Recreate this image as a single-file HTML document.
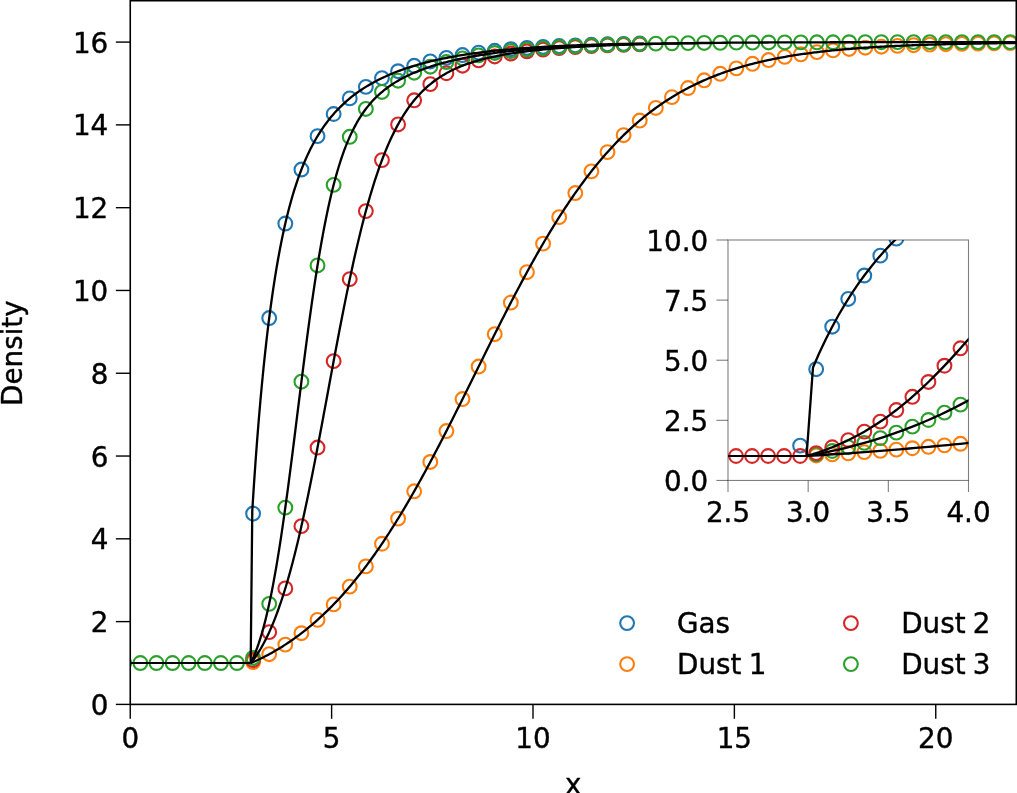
<!DOCTYPE html>
<html><head><meta charset="utf-8"><title>Density</title><style>html,body{margin:0;padding:0;background:#fff}body{width:1017px;height:793px;overflow:hidden}</style></head><body>
<svg width="1017" height="793" viewBox="0 0 1017 793" style="display:block" font-family="'DejaVu Sans','Liberation Sans',sans-serif" font-size="27.78" fill="#000" stroke="none">
<style>text{stroke:#000;stroke-width:0.4px;stroke-linejoin:round}</style>
<rect width="1017" height="793" fill="#fff"/>
<defs><clipPath id="cm"><rect x="130.25" y="0.7" width="886.05" height="703.7"/></clipPath><clipPath id="ci"><rect x="728" y="240" width="240.5" height="240.45"/></clipPath></defs>
<g clip-path="url(#cm)" fill="none" stroke="#1f77b4" stroke-width="2.1"><circle cx="253.09" cy="513.57" r="6.9"/><circle cx="269.2" cy="318.06" r="6.9"/><circle cx="285.31" cy="223.51" r="6.9"/><circle cx="301.42" cy="169.52" r="6.9"/><circle cx="317.53" cy="136.16" r="6.9"/><circle cx="333.64" cy="114" r="6.9"/><circle cx="349.75" cy="98.39" r="6.9"/><circle cx="365.86" cy="86.87" r="6.9"/><circle cx="381.97" cy="78.09" r="6.9"/><circle cx="398.08" cy="71.23" r="6.9"/><circle cx="414.19" cy="65.79" r="6.9"/><circle cx="430.3" cy="61.43" r="6.9"/><circle cx="446.41" cy="57.91" r="6.9"/><circle cx="462.52" cy="55.04" r="6.9"/><circle cx="478.63" cy="52.71" r="6.9"/><circle cx="494.74" cy="50.8" r="6.9"/><circle cx="510.85" cy="49.24" r="6.9"/><circle cx="526.96" cy="47.96" r="6.9"/><circle cx="543.07" cy="46.91" r="6.9"/><circle cx="559.18" cy="46.05" r="6.9"/><circle cx="575.29" cy="45.34" r="6.9"/><circle cx="591.4" cy="44.76" r="6.9"/><circle cx="607.51" cy="44.28" r="6.9"/><circle cx="623.62" cy="43.89" r="6.9"/><circle cx="639.73" cy="43.57" r="6.9"/></g>
<g clip-path="url(#cm)" fill="none" stroke="#ff7f0e" stroke-width="2.1"><circle cx="253.09" cy="662.03" r="6.9"/><circle cx="269.2" cy="654.22" r="6.9"/><circle cx="285.31" cy="644.62" r="6.9"/><circle cx="301.42" cy="633.23" r="6.9"/><circle cx="317.53" cy="619.88" r="6.9"/><circle cx="333.64" cy="604.4" r="6.9"/><circle cx="349.75" cy="586.61" r="6.9"/><circle cx="365.86" cy="566.41" r="6.9"/><circle cx="381.97" cy="543.75" r="6.9"/><circle cx="398.08" cy="518.66" r="6.9"/><circle cx="414.19" cy="491.32" r="6.9"/><circle cx="430.3" cy="461.98" r="6.9"/><circle cx="446.41" cy="431.06" r="6.9"/><circle cx="462.52" cy="399.06" r="6.9"/><circle cx="478.63" cy="366.56" r="6.9"/><circle cx="494.74" cy="334.19" r="6.9"/><circle cx="510.85" cy="302.55" r="6.9"/><circle cx="526.96" cy="272.21" r="6.9"/><circle cx="543.07" cy="243.63" r="6.9"/><circle cx="559.18" cy="217.16" r="6.9"/><circle cx="575.29" cy="193.03" r="6.9"/><circle cx="591.4" cy="171.34" r="6.9"/><circle cx="607.51" cy="152.1" r="6.9"/><circle cx="623.62" cy="135.22" r="6.9"/><circle cx="639.73" cy="120.56" r="6.9"/><circle cx="655.84" cy="107.95" r="6.9"/><circle cx="671.95" cy="97.17" r="6.9"/><circle cx="688.06" cy="88.02" r="6.9"/><circle cx="704.17" cy="80.29" r="6.9"/><circle cx="720.28" cy="73.8" r="6.9"/><circle cx="736.39" cy="68.36" r="6.9"/><circle cx="752.5" cy="63.82" r="6.9"/><circle cx="768.61" cy="60.05" r="6.9"/><circle cx="784.72" cy="56.92" r="6.9"/><circle cx="800.83" cy="54.32" r="6.9"/><circle cx="816.94" cy="52.17" r="6.9"/><circle cx="833.05" cy="50.39" r="6.9"/><circle cx="849.16" cy="48.93" r="6.9"/><circle cx="865.27" cy="47.72" r="6.9"/><circle cx="881.38" cy="46.72" r="6.9"/><circle cx="897.49" cy="45.9" r="6.9"/><circle cx="913.6" cy="45.22" r="6.9"/><circle cx="929.71" cy="44.67" r="6.9"/><circle cx="945.82" cy="44.21" r="6.9"/><circle cx="961.93" cy="43.83" r="6.9"/><circle cx="978.04" cy="43.52" r="6.9"/><circle cx="994.15" cy="43.27" r="6.9"/><circle cx="1010.26" cy="43.06" r="6.9"/><circle cx="1026.37" cy="42.89" r="6.9"/></g>
<g clip-path="url(#cm)" fill="none" stroke="#d62728" stroke-width="2.1"><circle cx="253.09" cy="660.04" r="6.9"/><circle cx="269.2" cy="632.16" r="6.9"/><circle cx="285.31" cy="588.38" r="6.9"/><circle cx="301.42" cy="526.17" r="6.9"/><circle cx="317.53" cy="447.55" r="6.9"/><circle cx="333.64" cy="361.14" r="6.9"/><circle cx="349.75" cy="279.16" r="6.9"/><circle cx="365.86" cy="211.08" r="6.9"/><circle cx="381.97" cy="160.11" r="6.9"/><circle cx="398.08" cy="124.44" r="6.9"/><circle cx="414.19" cy="100.32" r="6.9"/><circle cx="430.3" cy="84.17" r="6.9"/><circle cx="446.41" cy="73.25" r="6.9"/><circle cx="462.52" cy="65.71" r="6.9"/><circle cx="478.63" cy="60.35" r="6.9"/><circle cx="494.74" cy="56.45" r="6.9"/><circle cx="510.85" cy="53.51" r="6.9"/><circle cx="526.96" cy="51.27" r="6.9"/><circle cx="543.07" cy="49.51" r="6.9"/><circle cx="559.18" cy="48.12" r="6.9"/><circle cx="575.29" cy="47.01" r="6.9"/><circle cx="591.4" cy="46.11" r="6.9"/><circle cx="607.51" cy="45.38" r="6.9"/><circle cx="623.62" cy="44.79" r="6.9"/><circle cx="639.73" cy="44.3" r="6.9"/></g>
<g clip-path="url(#cm)" fill="none" stroke="#2ca02c" stroke-width="2.1"><circle cx="124.21" cy="663.01" r="6.9"/><circle cx="140.32" cy="663.01" r="6.9"/><circle cx="156.43" cy="663.01" r="6.9"/><circle cx="172.54" cy="663.01" r="6.9"/><circle cx="188.65" cy="663.01" r="6.9"/><circle cx="204.76" cy="663.01" r="6.9"/><circle cx="220.87" cy="663.01" r="6.9"/><circle cx="236.98" cy="663.01" r="6.9"/><circle cx="253.09" cy="657.98" r="6.9"/><circle cx="269.2" cy="603.86" r="6.9"/><circle cx="285.31" cy="507.61" r="6.9"/><circle cx="301.42" cy="381.7" r="6.9"/><circle cx="317.53" cy="265.47" r="6.9"/><circle cx="333.64" cy="184.85" r="6.9"/><circle cx="349.75" cy="136.81" r="6.9"/><circle cx="365.86" cy="108.95" r="6.9"/><circle cx="381.97" cy="91.94" r="6.9"/><circle cx="398.08" cy="80.7" r="6.9"/><circle cx="414.19" cy="72.72" r="6.9"/><circle cx="430.3" cy="66.72" r="6.9"/><circle cx="446.41" cy="62.06" r="6.9"/><circle cx="462.52" cy="58.36" r="6.9"/><circle cx="478.63" cy="55.39" r="6.9"/><circle cx="494.74" cy="52.98" r="6.9"/><circle cx="510.85" cy="51.01" r="6.9"/><circle cx="526.96" cy="49.41" r="6.9"/><circle cx="543.07" cy="48.1" r="6.9"/><circle cx="559.18" cy="47.02" r="6.9"/><circle cx="575.29" cy="46.14" r="6.9"/><circle cx="591.4" cy="45.42" r="6.9"/><circle cx="607.51" cy="44.82" r="6.9"/><circle cx="623.62" cy="44.33" r="6.9"/><circle cx="639.73" cy="43.93" r="6.9"/><circle cx="655.84" cy="43.61" r="6.9"/><circle cx="671.95" cy="43.34" r="6.9"/><circle cx="688.06" cy="43.11" r="6.9"/><circle cx="704.17" cy="42.93" r="6.9"/><circle cx="720.28" cy="42.78" r="6.9"/><circle cx="736.39" cy="42.66" r="6.9"/><circle cx="752.5" cy="42.56" r="6.9"/><circle cx="768.61" cy="42.48" r="6.9"/><circle cx="784.72" cy="42.41" r="6.9"/><circle cx="800.83" cy="42.35" r="6.9"/><circle cx="816.94" cy="42.31" r="6.9"/><circle cx="833.05" cy="42.27" r="6.9"/><circle cx="849.16" cy="42.24" r="6.9"/><circle cx="865.27" cy="42.21" r="6.9"/><circle cx="881.38" cy="42.19" r="6.9"/><circle cx="897.49" cy="42.17" r="6.9"/><circle cx="913.6" cy="42.16" r="6.9"/><circle cx="929.71" cy="42.15" r="6.9"/><circle cx="945.82" cy="42.14" r="6.9"/><circle cx="961.93" cy="42.13" r="6.9"/><circle cx="978.04" cy="42.12" r="6.9"/><circle cx="994.15" cy="42.12" r="6.9"/><circle cx="1010.26" cy="42.11" r="6.9"/><circle cx="1026.37" cy="42.11" r="6.9"/></g>
<polyline clip-path="url(#cm)" fill="none" stroke="#000" stroke-width="2.0" stroke-linejoin="round" points="110.11,663.01 250.67,663.01"/>
<polyline clip-path="url(#cm)" fill="none" stroke="#000" stroke-width="2.3" stroke-linejoin="round" points="250.67,663.01 252.28,510.75 253.89,485.36 255.51,462.01 257.12,440.38 258.73,420.26 260.34,401.51 261.95,384 263.56,367.62 265.17,352.29 266.78,337.94 268.39,324.48 270,311.85 271.62,299.99 273.23,288.84 274.84,278.36 276.45,268.5 278.06,259.21 279.67,250.46 281.28,242.2 282.89,234.41 284.5,227.04 286.11,220.08 287.73,213.49 289.34,207.26 290.95,201.34 292.56,195.73 294.17,190.41 295.78,185.36 297.39,180.55 299,175.97 300.61,171.62 302.22,167.47 303.84,163.51 305.45,159.73 307.06,156.12 308.67,152.67 310.28,149.37 311.89,146.21 313.5,143.19 315.11,140.29 316.72,137.51 318.33,134.84 319.95,132.27 321.56,129.81 323.17,127.43 324.78,125.15 326.39,122.96 328,120.84 329.61,118.8 331.22,116.83 332.83,114.93 334.44,113.1 336.06,111.32 337.67,109.61 339.28,107.95 340.89,106.35 342.5,104.8 344.11,103.3 345.72,101.84 347.33,100.43 348.94,99.06 350.55,97.73 352.17,96.44 353.78,95.19 355.39,93.98 357,92.8 358.61,91.65 360.22,90.54 361.83,89.45 363.44,88.4 365.05,87.37 366.66,86.38 368.28,85.4 369.89,84.46 371.5,83.54 373.11,82.64 374.72,81.76 376.33,80.91 377.94,80.08 379.55,79.27 381.16,78.48 382.77,77.71 384.39,76.95 386,76.22 387.61,75.5 389.22,74.8 390.83,74.12 392.44,73.45 394.05,72.8 395.66,72.16 397.27,71.54 398.88,70.93 400.5,70.34 402.11,69.76 403.72,69.19 405.33,68.63 406.94,68.09 408.55,67.56 410.16,67.04 411.77,66.53 413.38,66.04 414.99,65.55 416.61,65.08 418.22,64.61 419.83,64.16 421.44,63.71 423.05,63.28 424.66,62.85 426.27,62.44 427.88,62.03 429.49,61.63 431.1,61.24 432.72,60.85 434.33,60.48 435.94,60.11 437.55,59.75 439.16,59.4 440.77,59.06 442.38,58.72 443.99,58.39 445.6,58.07 447.21,57.75 448.83,57.44 450.44,57.13 452.05,56.84 453.66,56.54 455.27,56.26 456.88,55.98 458.49,55.7 460.1,55.43 461.71,55.17 463.32,54.91 464.94,54.66 466.55,54.41 468.16,54.17 469.77,53.93 471.38,53.7 472.99,53.47 474.6,53.25 476.21,53.03 477.82,52.81 479.43,52.6 481.05,52.4 482.66,52.19 484.27,52 485.88,51.8 487.49,51.61 489.1,51.42 490.71,51.24 492.32,51.06 493.93,50.89 495.54,50.71 497.16,50.54 498.77,50.38 500.38,50.22 501.99,50.06 503.6,49.9 505.21,49.75 506.82,49.6 508.43,49.45 510.04,49.31 511.65,49.17 513.27,49.03 514.88,48.89 516.49,48.76 518.1,48.63 519.71,48.5 521.32,48.38 522.93,48.25 524.54,48.13 526.15,48.02 527.76,47.9 529.38,47.79 530.99,47.68 532.6,47.57 534.21,47.46 535.82,47.35 537.43,47.25 539.04,47.15 540.65,47.05 542.26,46.96 543.87,46.86 545.49,46.77 547.1,46.68 548.71,46.59 550.32,46.5 551.93,46.41 553.54,46.33 555.15,46.25 556.76,46.17 558.37,46.09 559.98,46.01 561.6,45.93 563.21,45.86 564.82,45.78 566.43,45.71 568.04,45.64 569.65,45.57 571.26,45.5 572.87,45.44 574.48,45.37 576.09,45.31 577.71,45.25 579.32,45.18 580.93,45.12 582.54,45.07 584.15,45.01 585.76,44.95 587.37,44.89 588.98,44.84 590.59,44.79 592.2,44.73 593.82,44.68 595.43,44.63 597.04,44.58 598.65,44.53 600.26,44.49 601.87,44.44 603.48,44.39 605.09,44.35 606.7,44.31 608.31,44.26 609.93,44.22 611.54,44.18 613.15,44.14 614.76,44.1 616.37,44.06 617.98,44.02 619.59,43.98 621.2,43.95 622.81,43.91 624.42,43.88 626.04,43.84 627.65,43.81 629.26,43.77 630.87,43.74 632.48,43.71 634.09,43.68 635.7,43.65 637.31,43.62 638.92,43.59 640.53,43.56 642.15,43.53 643.76,43.5"/>
<polyline clip-path="url(#cm)" fill="none" stroke="#000" stroke-width="2.3" stroke-linejoin="round" points="250.67,663.01 252.28,662.37 253.89,661.69 255.51,660.99 257.12,660.27 258.73,659.52 260.34,658.76 261.95,657.97 263.56,657.17 265.17,656.35 266.78,655.51 268.39,654.65 270,653.78 271.62,652.89 273.23,651.98 274.84,651.06 276.45,650.11 278.06,649.16 279.67,648.18 281.28,647.19 282.89,646.17 284.5,645.14 286.11,644.1 287.73,643.03 289.34,641.95 290.95,640.85 292.56,639.73 294.17,638.59 295.78,637.43 297.39,636.26 299,635.06 300.61,633.85 302.22,632.61 303.84,631.36 305.45,630.09 307.06,628.79 308.67,627.48 310.28,626.15 311.89,624.79 313.5,623.42 315.11,622.02 316.72,620.6 318.33,619.16 319.95,617.7 321.56,616.22 323.17,614.72 324.78,613.19 326.39,611.64 328,610.07 329.61,608.48 331.22,606.86 332.83,605.22 334.44,603.56 336.06,601.88 337.67,600.17 339.28,598.44 340.89,596.69 342.5,594.91 344.11,593.11 345.72,591.28 347.33,589.43 348.94,587.56 350.55,585.66 352.17,583.74 353.78,581.79 355.39,579.82 357,577.82 358.61,575.8 360.22,573.76 361.83,571.69 363.44,569.6 365.05,567.48 366.66,565.34 368.28,563.17 369.89,560.98 371.5,558.76 373.11,556.52 374.72,554.25 376.33,551.96 377.94,549.64 379.55,547.3 381.16,544.94 382.77,542.55 384.39,540.14 386,537.7 387.61,535.24 389.22,532.75 390.83,530.24 392.44,527.71 394.05,525.16 395.66,522.58 397.27,519.97 398.88,517.35 400.5,514.7 402.11,512.03 403.72,509.34 405.33,506.63 406.94,503.89 408.55,501.13 410.16,498.35 411.77,495.55 413.38,492.74 414.99,489.9 416.61,487.04 418.22,484.16 419.83,481.26 421.44,478.34 423.05,475.41 424.66,472.45 426.27,469.48 427.88,466.5 429.49,463.49 431.1,460.47 432.72,457.44 434.33,454.38 435.94,451.32 437.55,448.24 439.16,445.14 440.77,442.04 442.38,438.92 443.99,435.78 445.6,432.64 447.21,429.48 448.83,426.32 450.44,423.14 452.05,419.96 453.66,416.76 455.27,413.56 456.88,410.35 458.49,407.13 460.1,403.91 461.71,400.68 463.32,397.44 464.94,394.2 466.55,390.96 468.16,387.71 469.77,384.46 471.38,381.21 472.99,377.95 474.6,374.7 476.21,371.44 477.82,368.19 479.43,364.93 481.05,361.68 482.66,358.43 484.27,355.18 485.88,351.94 487.49,348.7 489.1,345.47 490.71,342.24 492.32,339.01 493.93,335.79 495.54,332.58 497.16,329.38 498.77,326.19 500.38,323 501.99,319.83 503.6,316.66 505.21,313.5 506.82,310.36 508.43,307.23 510.04,304.11 511.65,301 513.27,297.91 514.88,294.83 516.49,291.76 518.1,288.71 519.71,285.67 521.32,282.65 522.93,279.65 524.54,276.66 526.15,273.69 527.76,270.74 529.38,267.8 530.99,264.89 532.6,261.99 534.21,259.11 535.82,256.25 537.43,253.41 539.04,250.59 540.65,247.79 542.26,245.01 543.87,242.26 545.49,239.52 547.1,236.81 548.71,234.11 550.32,231.44 551.93,228.8 553.54,226.17 555.15,223.57 556.76,220.99 558.37,218.43 559.98,215.9 561.6,213.39 563.21,210.9 564.82,208.44 566.43,206.01 568.04,203.59 569.65,201.2 571.26,198.84 572.87,196.5 574.48,194.18 576.09,191.89 577.71,189.62 579.32,187.38 580.93,185.16 582.54,182.97 584.15,180.8 585.76,178.65 587.37,176.53 588.98,174.44 590.59,172.37 592.2,170.32 593.82,168.3 595.43,166.3 597.04,164.33 598.65,162.38 600.26,160.46 601.87,158.56 603.48,156.68 605.09,154.83 606.7,153 608.31,151.2 609.93,149.42 611.54,147.66 613.15,145.93 614.76,144.22 616.37,142.53 617.98,140.87 619.59,139.23 621.2,137.61 622.81,136.01 624.42,134.44 626.04,132.88 627.65,131.35 629.26,129.85 630.87,128.36 632.48,126.9 634.09,125.45 635.7,124.03 637.31,122.63 638.92,121.25 640.53,119.89 642.15,118.55 643.76,117.23 645.37,115.93 646.98,114.65 648.59,113.38 650.2,112.14 651.81,110.92 653.42,109.72 655.03,108.53 656.64,107.37 658.26,106.22 659.87,105.09 661.48,103.98 663.09,102.88 664.7,101.8 666.31,100.74 667.92,99.7 669.53,98.67 671.14,97.67 672.75,96.67 674.37,95.7 675.98,94.73 677.59,93.79 679.2,92.86 680.81,91.95 682.42,91.05 684.03,90.16 685.64,89.29 687.25,88.44 688.86,87.6 690.48,86.77 692.09,85.96 693.7,85.16 695.31,84.37 696.92,83.6 698.53,82.84 700.14,82.1 701.75,81.37 703.36,80.65 704.97,79.94 706.59,79.24 708.2,78.56 709.81,77.89 711.42,77.23 713.03,76.58 714.64,75.94 716.25,75.31 717.86,74.7 719.47,74.09 721.08,73.5 722.7,72.92 724.31,72.34 725.92,71.78 727.53,71.23 729.14,70.69 730.75,70.15 732.36,69.63 733.97,69.11 735.58,68.61 737.19,68.11 738.81,67.63 740.42,67.15 742.03,66.68 743.64,66.22 745.25,65.76 746.86,65.32 748.47,64.88 750.08,64.45 751.69,64.03 753.3,63.62 754.92,63.21 756.53,62.81 758.14,62.42 759.75,62.04 761.36,61.66 762.97,61.29 764.58,60.93 766.19,60.57 767.8,60.22 769.41,59.88 771.03,59.54 772.64,59.21 774.25,58.89 775.86,58.57 777.47,58.25 779.08,57.95 780.69,57.65 782.3,57.35 783.91,57.06 785.52,56.77 787.14,56.49 788.75,56.22 790.36,55.95 791.97,55.69 793.58,55.43 795.19,55.17 796.8,54.92 798.41,54.68 800.02,54.44 801.63,54.2 803.25,53.97 804.86,53.74 806.47,53.52 808.08,53.3 809.69,53.09 811.3,52.88 812.91,52.67 814.52,52.47 816.13,52.27 817.74,52.07 819.36,51.88 820.97,51.69 822.58,51.51 824.19,51.33 825.8,51.15 827.41,50.98 829.02,50.81 830.63,50.64 832.24,50.47 833.85,50.31 835.47,50.15 837.08,50 838.69,49.85 840.3,49.7 841.91,49.55 843.52,49.41 845.13,49.27 846.74,49.13 848.35,48.99 849.96,48.86 851.58,48.73 853.19,48.6 854.8,48.48 856.41,48.35 858.02,48.23 859.63,48.11 861.24,48 862.85,47.88 864.46,47.77 866.07,47.66 867.69,47.55 869.3,47.45 870.91,47.35 872.52,47.24 874.13,47.14 875.74,47.05 877.35,46.95 878.96,46.86 880.57,46.77 882.18,46.67 883.8,46.59 885.41,46.5 887.02,46.41 888.63,46.33 890.24,46.25 891.85,46.17 893.46,46.09 895.07,46.01 896.68,45.94 898.29,45.86 899.91,45.79 901.52,45.72 903.13,45.65 904.74,45.58 906.35,45.51 907.96,45.44 909.57,45.38 911.18,45.32 912.79,45.25 914.4,45.19 916.02,45.13 917.63,45.07 919.24,45.02 920.85,44.96 922.46,44.9 924.07,44.85 925.68,44.8 927.29,44.74 928.9,44.69 930.51,44.64 932.13,44.59 933.74,44.54 935.35,44.5 936.96,44.45 938.57,44.4 940.18,44.36 941.79,44.31 943.4,44.27 945.01,44.23 946.62,44.19 948.24,44.15 949.85,44.11 951.46,44.07 953.07,44.03 954.68,43.99 956.29,43.96 957.9,43.92 959.51,43.88 961.12,43.85 962.73,43.81 964.35,43.78 965.96,43.75 967.57,43.72 969.18,43.69 970.79,43.65 972.4,43.62 974.01,43.59 975.62,43.56 977.23,43.54 978.84,43.51 980.46,43.48 982.07,43.45 983.68,43.43 985.29,43.4 986.9,43.38 988.51,43.35 990.12,43.33 991.73,43.3 993.34,43.28 994.95,43.26 996.57,43.23 998.18,43.21 999.79,43.19 1001.4,43.17 1003.01,43.15 1004.62,43.13 1006.23,43.11 1007.84,43.09 1009.45,43.07 1011.06,43.05 1012.68,43.03 1014.29,43.01 1015.9,42.99 1017.51,42.98 1019.12,42.96 1020.73,42.94 1022.34,42.93 1023.95,42.91 1025.56,42.89 1027.17,42.88 1028.79,42.86 1030.4,42.85 1032.01,42.83 1033.62,42.82 1035.23,42.81 1036.84,42.79 1038.45,42.78 1040.06,42.76 1041.67,42.75 1043.28,42.74 1044.9,42.73 1046.51,42.71 1048.12,42.7 1049.73,42.69 1051.34,42.68 1052.95,42.67 1054.56,42.66"/>
<polyline clip-path="url(#cm)" fill="none" stroke="#000" stroke-width="2.3" stroke-linejoin="round" points="250.67,663.01 252.28,661.06 253.89,658.97 255.51,656.74 257.12,654.38 258.73,651.88 260.34,649.24 261.95,646.46 263.56,643.55 265.17,640.48 266.78,637.27 268.39,633.9 270,630.37 271.62,626.69 273.23,622.84 274.84,618.82 276.45,614.63 278.06,610.27 279.67,605.72 281.28,601 282.89,596.09 284.5,591 286.11,585.72 287.73,580.24 289.34,574.58 290.95,568.73 292.56,562.7 294.17,556.47 295.78,550.05 297.39,543.45 299,536.67 300.61,529.72 302.22,522.59 303.84,515.29 305.45,507.83 307.06,500.22 308.67,492.46 310.28,484.56 311.89,476.53 313.5,468.38 315.11,460.12 316.72,451.76 318.33,443.32 319.95,434.8 321.56,426.21 323.17,417.58 324.78,408.91 326.39,400.21 328,391.51 329.61,382.8 331.22,374.11 332.83,365.45 334.44,356.83 336.06,348.27 337.67,339.76 339.28,331.34 340.89,323 342.5,314.76 344.11,306.63 345.72,298.62 347.33,290.73 348.94,282.98 350.55,275.37 352.17,267.91 353.78,260.6 355.39,253.45 357,246.46 358.61,239.64 360.22,232.99 361.83,226.52 363.44,220.21 365.05,214.08 366.66,208.13 368.28,202.35 369.89,196.75 371.5,191.32 373.11,186.06 374.72,180.97 376.33,176.05 377.94,171.29 379.55,166.7 381.16,162.27 382.77,157.99 384.39,153.87 386,149.89 387.61,146.06 389.22,142.37 390.83,138.82 392.44,135.4 394.05,132.12 395.66,128.95 397.27,125.91 398.88,122.99 400.5,120.18 402.11,117.48 403.72,114.88 405.33,112.39 406.94,109.99 408.55,107.69 410.16,105.48 411.77,103.35 413.38,101.31 414.99,99.35 416.61,97.47 418.22,95.66 419.83,93.92 421.44,92.26 423.05,90.65 424.66,89.11 426.27,87.63 427.88,86.2 429.49,84.84 431.1,83.52 432.72,82.25 434.33,81.04 435.94,79.86 437.55,78.74 439.16,77.65 440.77,76.61 442.38,75.6 443.99,74.64 445.6,73.7 447.21,72.8 448.83,71.94 450.44,71.1 452.05,70.3 453.66,69.52 455.27,68.77 456.88,68.05 458.49,67.35 460.1,66.67 461.71,66.02 463.32,65.39 464.94,64.79 466.55,64.2 468.16,63.63 469.77,63.08 471.38,62.55 472.99,62.03 474.6,61.53 476.21,61.05 477.82,60.58 479.43,60.13 481.05,59.69 482.66,59.26 484.27,58.85 485.88,58.45 487.49,58.06 489.1,57.68 490.71,57.32 492.32,56.96 493.93,56.61 495.54,56.28 497.16,55.95 498.77,55.63 500.38,55.33 501.99,55.03 503.6,54.73 505.21,54.45 506.82,54.17 508.43,53.91 510.04,53.64 511.65,53.39 513.27,53.14 514.88,52.9 516.49,52.66 518.1,52.43 519.71,52.21 521.32,51.99 522.93,51.78 524.54,51.57 526.15,51.37 527.76,51.17 529.38,50.98 530.99,50.79 532.6,50.6 534.21,50.43 535.82,50.25 537.43,50.08 539.04,49.91 540.65,49.75 542.26,49.59 543.87,49.43 545.49,49.28 547.1,49.13 548.71,48.99 550.32,48.85 551.93,48.71 553.54,48.57 555.15,48.44 556.76,48.31 558.37,48.18 559.98,48.06 561.6,47.94 563.21,47.82 564.82,47.7 566.43,47.59 568.04,47.48 569.65,47.37 571.26,47.26 572.87,47.16 574.48,47.06 576.09,46.96 577.71,46.86 579.32,46.76 580.93,46.67 582.54,46.58 584.15,46.49 585.76,46.4 587.37,46.32 588.98,46.23 590.59,46.15 592.2,46.07 593.82,45.99 595.43,45.91 597.04,45.84 598.65,45.76 600.26,45.69 601.87,45.62 603.48,45.55 605.09,45.48 606.7,45.41 608.31,45.35 609.93,45.28 611.54,45.22 613.15,45.16 614.76,45.1 616.37,45.04 617.98,44.98 619.59,44.92 621.2,44.87 622.81,44.81 624.42,44.76 626.04,44.71 627.65,44.66 629.26,44.61 630.87,44.56 632.48,44.51 634.09,44.46 635.7,44.41 637.31,44.37 638.92,44.32 640.53,44.28 642.15,44.24 643.76,44.19 645.37,44.15 646.98,44.11 648.59,44.07 650.2,44.03 651.81,44 653.42,43.96 655.03,43.92 656.64,43.89 658.26,43.85 659.87,43.82 661.48,43.78 663.09,43.75 664.7,43.72 666.31,43.69 667.92,43.66 669.53,43.63 671.14,43.6 672.75,43.57 674.37,43.54 675.98,43.51 677.59,43.48 679.2,43.45 680.81,43.43 682.42,43.4 684.03,43.38 685.64,43.35 687.25,43.33 688.86,43.3 690.48,43.28 692.09,43.26 693.7,43.23 695.31,43.21 696.92,43.19 698.53,43.17 700.14,43.15 701.75,43.13 703.36,43.11 704.97,43.09 706.59,43.07 708.2,43.05 709.81,43.03 711.42,43.01 713.03,42.99"/>
<polyline clip-path="url(#cm)" fill="none" stroke="#000" stroke-width="2.3" stroke-linejoin="round" points="250.67,663.01 252.28,659.73 253.89,656.13 255.51,652.21 257.12,647.94 258.73,643.32 260.34,638.35 261.95,632.99 263.56,627.24 265.17,621.09 266.78,614.52 268.39,607.52 270,600.08 271.62,592.2 273.23,583.87 274.84,575.08 276.45,565.85 278.06,556.18 279.67,546.08 281.28,535.57 282.89,524.66 284.5,513.38 286.11,501.75 287.73,489.82 289.34,477.61 290.95,465.17 292.56,452.53 294.17,439.75 295.78,426.87 297.39,413.94 299,401 300.61,388.11 302.22,375.32 303.84,362.65 305.45,350.16 307.06,337.89 308.67,325.87 310.28,314.14 311.89,302.71 313.5,291.62 315.11,280.88 316.72,270.51 318.33,260.53 319.95,250.92 321.56,241.72 323.17,232.9 324.78,224.48 326.39,216.44 328,208.78 329.61,201.5 331.22,194.58 332.83,188 334.44,181.77 336.06,175.86 337.67,170.26 339.28,164.96 340.89,159.95 342.5,155.2 344.11,150.71 345.72,146.46 347.33,142.44 348.94,138.64 350.55,135.04 352.17,131.63 353.78,128.4 355.39,125.35 357,122.45 358.61,119.7 360.22,117.09 361.83,114.62 363.44,112.26 365.05,110.03 366.66,107.9 368.28,105.87 369.89,103.94 371.5,102.1 373.11,100.34 374.72,98.65 376.33,97.05 377.94,95.51 379.55,94.04 381.16,92.62 382.77,91.27 384.39,89.97 386,88.72 387.61,87.52 389.22,86.36 390.83,85.25 392.44,84.17 394.05,83.14 395.66,82.14 397.27,81.17 398.88,80.24 400.5,79.34 402.11,78.47 403.72,77.62 405.33,76.8 406.94,76.01 408.55,75.24 410.16,74.49 411.77,73.76 413.38,73.06 414.99,72.38 416.61,71.71 418.22,71.06 419.83,70.43 421.44,69.82 423.05,69.22 424.66,68.64 426.27,68.08 427.88,67.52 429.49,66.99 431.1,66.46 432.72,65.95 434.33,65.45 435.94,64.96 437.55,64.49 439.16,64.02 440.77,63.57 442.38,63.13 443.99,62.69 445.6,62.27 447.21,61.86 448.83,61.45 450.44,61.06 452.05,60.67 453.66,60.3 455.27,59.93 456.88,59.57 458.49,59.21 460.1,58.87 461.71,58.53 463.32,58.2 464.94,57.88 466.55,57.56 468.16,57.25 469.77,56.95 471.38,56.65 472.99,56.36 474.6,56.07 476.21,55.8 477.82,55.52 479.43,55.26 481.05,54.99 482.66,54.74 484.27,54.49 485.88,54.24 487.49,54 489.1,53.77 490.71,53.53 492.32,53.31 493.93,53.09 495.54,52.87 497.16,52.66 498.77,52.45 500.38,52.24 501.99,52.04 503.6,51.85 505.21,51.66 506.82,51.47 508.43,51.28 510.04,51.1 511.65,50.93 513.27,50.75 514.88,50.58 516.49,50.41 518.1,50.25 519.71,50.09 521.32,49.93 522.93,49.78 524.54,49.63 526.15,49.48 527.76,49.34 529.38,49.2 530.99,49.06 532.6,48.92 534.21,48.79 535.82,48.65 537.43,48.53 539.04,48.4 540.65,48.28 542.26,48.16 543.87,48.04 545.49,47.92 547.1,47.81 548.71,47.7 550.32,47.59 551.93,47.48 553.54,47.37 555.15,47.27 556.76,47.17 558.37,47.07 559.98,46.97 561.6,46.88 563.21,46.78 564.82,46.69 566.43,46.6 568.04,46.51 569.65,46.43 571.26,46.34 572.87,46.26 574.48,46.18 576.09,46.1 577.71,46.02 579.32,45.94 580.93,45.87 582.54,45.8 584.15,45.72 585.76,45.65 587.37,45.58 588.98,45.52 590.59,45.45 592.2,45.38 593.82,45.32 595.43,45.26 597.04,45.19 598.65,45.13 600.26,45.07 601.87,45.02 603.48,44.96 605.09,44.9 606.7,44.85 608.31,44.79 609.93,44.74 611.54,44.69 613.15,44.64 614.76,44.59 616.37,44.54 617.98,44.49 619.59,44.45 621.2,44.4 622.81,44.36 624.42,44.31 626.04,44.27 627.65,44.23 629.26,44.18 630.87,44.14 632.48,44.1 634.09,44.07 635.7,44.03 637.31,43.99 638.92,43.95 640.53,43.92 642.15,43.88 643.76,43.85 645.37,43.81 646.98,43.78 648.59,43.75 650.2,43.71 651.81,43.68 653.42,43.65 655.03,43.62 656.64,43.59 658.26,43.56 659.87,43.53 661.48,43.5 663.09,43.48 664.7,43.45 666.31,43.42 667.92,43.4 669.53,43.37 671.14,43.35 672.75,43.32 674.37,43.3 675.98,43.28 677.59,43.25 679.2,43.23 680.81,43.21 682.42,43.19 684.03,43.17 685.64,43.14 687.25,43.12 688.86,43.1 690.48,43.08 692.09,43.06 693.7,43.05 695.31,43.03 696.92,43.01 698.53,42.99 700.14,42.97 701.75,42.96 703.36,42.94 704.97,42.92 706.59,42.91 708.2,42.89 709.81,42.88 711.42,42.86 713.03,42.85 714.64,42.83 716.25,42.82 717.86,42.8 719.47,42.79 721.08,42.78 722.7,42.76 724.31,42.75 725.92,42.74 727.53,42.72 729.14,42.71 730.75,42.7 732.36,42.69 733.97,42.68 735.58,42.66 737.19,42.65 738.81,42.64 740.42,42.63 742.03,42.62 743.64,42.61 745.25,42.6 746.86,42.59 748.47,42.58 750.08,42.57 751.69,42.56 753.3,42.55 754.92,42.54 756.53,42.54 758.14,42.53 759.75,42.52 761.36,42.51 762.97,42.5 764.58,42.49 766.19,42.49 767.8,42.48 769.41,42.47 771.03,42.46 772.64,42.46 774.25,42.45 775.86,42.44 777.47,42.44 779.08,42.43 780.69,42.42 782.3,42.42 783.91,42.41 785.52,42.4 787.14,42.4 788.75,42.39 790.36,42.39 791.97,42.38 793.58,42.38 795.19,42.37 796.8,42.36 798.41,42.36 800.02,42.35 801.63,42.35 803.25,42.34 804.86,42.34 806.47,42.33 808.08,42.33 809.69,42.32 811.3,42.32 812.91,42.32 814.52,42.31 816.13,42.31 817.74,42.3 819.36,42.3 820.97,42.3 822.58,42.29 824.19,42.29 825.8,42.28 827.41,42.28 829.02,42.28 830.63,42.27 832.24,42.27 833.85,42.27 835.47,42.26 837.08,42.26 838.69,42.26 840.3,42.25 841.91,42.25 843.52,42.25 845.13,42.24 846.74,42.24 848.35,42.24 849.96,42.24 851.58,42.23 853.19,42.23 854.8,42.23 856.41,42.22 858.02,42.22 859.63,42.22 861.24,42.22 862.85,42.21 864.46,42.21 866.07,42.21 867.69,42.21 869.3,42.21 870.91,42.2 872.52,42.2 874.13,42.2 875.74,42.2 877.35,42.2 878.96,42.19 880.57,42.19 882.18,42.19 883.8,42.19 885.41,42.19 887.02,42.18 888.63,42.18 890.24,42.18 891.85,42.18 893.46,42.18 895.07,42.18 896.68,42.17 898.29,42.17 899.91,42.17 901.52,42.17 903.13,42.17 904.74,42.17 906.35,42.17 907.96,42.16 909.57,42.16 911.18,42.16 912.79,42.16 914.4,42.16 916.02,42.16 917.63,42.16 919.24,42.15 920.85,42.15 922.46,42.15 924.07,42.15 925.68,42.15 927.29,42.15 928.9,42.15 930.51,42.15 932.13,42.15 933.74,42.14 935.35,42.14 936.96,42.14 938.57,42.14 940.18,42.14 941.79,42.14 943.4,42.14 945.01,42.14 946.62,42.14 948.24,42.14 949.85,42.14 951.46,42.14 953.07,42.13 954.68,42.13 956.29,42.13 957.9,42.13 959.51,42.13 961.12,42.13 962.73,42.13 964.35,42.13 965.96,42.13 967.57,42.13 969.18,42.13 970.79,42.13 972.4,42.13 974.01,42.13 975.62,42.12 977.23,42.12 978.84,42.12 980.46,42.12 982.07,42.12 983.68,42.12 985.29,42.12 986.9,42.12 988.51,42.12 990.12,42.12 991.73,42.12 993.34,42.12 994.95,42.12 996.57,42.12 998.18,42.12 999.79,42.12 1001.4,42.12 1003.01,42.12 1004.62,42.12 1006.23,42.12 1007.84,42.11 1009.45,42.11 1011.06,42.11 1012.68,42.11 1014.29,42.11 1015.9,42.11 1017.51,42.11 1019.12,42.11 1020.73,42.11 1022.34,42.11 1023.95,42.11 1025.56,42.11 1027.17,42.11 1028.79,42.11 1030.4,42.11 1032.01,42.11 1033.62,42.11 1035.23,42.11 1036.84,42.11 1038.45,42.11 1040.06,42.11 1041.67,42.11 1043.28,42.11 1044.9,42.11 1046.51,42.11 1048.12,42.11 1049.73,42.11 1051.34,42.11 1052.95,42.11 1054.56,42.11"/>
<rect x="130.25" y="0.7" width="886.05" height="703.7" fill="none" stroke="#000" stroke-width="1.6"/>
<g stroke="#000" stroke-width="1.4"><line x1="130.25" y1="704.4" x2="130.25" y2="718.8"/><line x1="331.62" y1="704.4" x2="331.62" y2="718.8"/><line x1="533" y1="704.4" x2="533" y2="718.8"/><line x1="734.37" y1="704.4" x2="734.37" y2="718.8"/><line x1="935.75" y1="704.4" x2="935.75" y2="718.8"/><line x1="130.25" y1="704.4" x2="115.85" y2="704.4"/><line x1="130.25" y1="621.61" x2="115.85" y2="621.61"/><line x1="130.25" y1="538.82" x2="115.85" y2="538.82"/><line x1="130.25" y1="456.04" x2="115.85" y2="456.04"/><line x1="130.25" y1="373.25" x2="115.85" y2="373.25"/><line x1="130.25" y1="290.46" x2="115.85" y2="290.46"/><line x1="130.25" y1="207.67" x2="115.85" y2="207.67"/><line x1="130.25" y1="124.88" x2="115.85" y2="124.88"/><line x1="130.25" y1="42.09" x2="115.85" y2="42.09"/></g>
<g text-anchor="middle"><text x="130.25" y="748">0</text><text x="331.62" y="748">5</text><text x="533" y="748">10</text><text x="734.37" y="748">15</text><text x="935.75" y="748">20</text></g>
<g text-anchor="end"><text x="108.3" y="714.9">0</text><text x="108.3" y="632.11">2</text><text x="108.3" y="549.32">4</text><text x="108.3" y="466.54">6</text><text x="108.3" y="383.75">8</text><text x="108.3" y="300.96">10</text><text x="108.3" y="218.17">12</text><text x="108.3" y="135.38">14</text><text x="108.3" y="52.59">16</text></g>
<text x="573.2" y="794.0" text-anchor="middle">x</text>
<text transform="translate(21.6,353.1) rotate(-90)" text-anchor="middle">Density</text>
<g clip-path="url(#ci)" fill="none" stroke="#1f77b4" stroke-width="2.1"><circle cx="800.15" cy="445.67" r="6.9"/><circle cx="816.18" cy="369.2" r="6.9"/><circle cx="832.22" cy="326.69" r="6.9"/><circle cx="848.25" cy="298.93" r="6.9"/><circle cx="864.28" cy="275.52" r="6.9"/><circle cx="880.32" cy="255.63" r="6.9"/><circle cx="896.35" cy="238.66" r="6.9"/><circle cx="912.38" cy="224.11" r="6.9"/><circle cx="928.42" cy="211.57" r="6.9"/><circle cx="944.45" cy="200.71" r="6.9"/><circle cx="960.48" cy="191.27" r="6.9"/></g>
<g clip-path="url(#ci)" fill="none" stroke="#ff7f0e" stroke-width="2.1"><circle cx="816.18" cy="455.44" r="6.9"/><circle cx="832.22" cy="454.41" r="6.9"/><circle cx="848.25" cy="453.31" r="6.9"/><circle cx="864.28" cy="452.14" r="6.9"/><circle cx="880.32" cy="450.9" r="6.9"/><circle cx="896.35" cy="449.6" r="6.9"/><circle cx="912.38" cy="448.24" r="6.9"/><circle cx="928.42" cy="446.82" r="6.9"/><circle cx="944.45" cy="445.33" r="6.9"/><circle cx="960.48" cy="443.77" r="6.9"/></g>
<g clip-path="url(#ci)" fill="none" stroke="#2ca02c" stroke-width="2.1"><circle cx="816.18" cy="454.28" r="6.9"/><circle cx="832.22" cy="450.99" r="6.9"/><circle cx="848.25" cy="447.21" r="6.9"/><circle cx="864.28" cy="442.92" r="6.9"/><circle cx="880.32" cy="438.09" r="6.9"/><circle cx="896.35" cy="432.67" r="6.9"/><circle cx="912.38" cy="426.65" r="6.9"/><circle cx="928.42" cy="419.99" r="6.9"/><circle cx="944.45" cy="412.66" r="6.9"/><circle cx="960.48" cy="404.64" r="6.9"/></g>
<g clip-path="url(#ci)" fill="none" stroke="#d62728" stroke-width="2.1"><circle cx="736.02" cy="456" r="6.9"/><circle cx="752.05" cy="456" r="6.9"/><circle cx="768.08" cy="456" r="6.9"/><circle cx="784.12" cy="456" r="6.9"/><circle cx="800.15" cy="456" r="6.9"/><circle cx="816.18" cy="453.08" r="6.9"/><circle cx="832.22" cy="447.25" r="6.9"/><circle cx="848.25" cy="440.15" r="6.9"/><circle cx="864.28" cy="431.66" r="6.9"/><circle cx="880.32" cy="421.65" r="6.9"/><circle cx="896.35" cy="410.03" r="6.9"/><circle cx="912.38" cy="396.79" r="6.9"/><circle cx="928.42" cy="381.98" r="6.9"/><circle cx="944.45" cy="365.74" r="6.9"/><circle cx="960.48" cy="348.31" r="6.9"/></g>
<polyline clip-path="url(#ci)" fill="none" stroke="#000" stroke-width="2.0" stroke-linejoin="round" points="711.97,456 806.56,456"/>
<polyline clip-path="url(#ci)" fill="none" stroke="#000" stroke-width="2.3" stroke-linejoin="round" points="806.56,456 812.98,367.56 819.39,352.81 825.8,339.25 832.22,326.69 838.63,315 845.04,304.11 851.46,293.93 857.87,284.42 864.28,275.52 870.7,267.18 877.11,259.36 883.52,252.02 889.94,245.14 896.35,238.66 902.76,232.57 909.18,226.85 915.59,221.45 922,216.37 928.42,211.57 934.83,207.04 941.24,202.76 947.66,198.72 954.07,194.89 960.48,191.27 966.9,187.83 973.31,184.58 979.72,181.48 986.14,178.55 992.55,175.75 998.96,173.1"/>
<polyline clip-path="url(#ci)" fill="none" stroke="#000" stroke-width="2.3" stroke-linejoin="round" points="806.56,456 812.98,455.63 819.39,455.24 825.8,454.83 832.22,454.41 838.63,453.98 845.04,453.54 851.46,453.08 857.87,452.61 864.28,452.14 870.7,451.65 877.11,451.15 883.52,450.65 889.94,450.13 896.35,449.6 902.76,449.06 909.18,448.52 915.59,447.96 922,447.39 928.42,446.82 934.83,446.23 941.24,445.63 947.66,445.02 954.07,444.4 960.48,443.77 966.9,443.13 973.31,442.48 979.72,441.82 986.14,441.15 992.55,440.47 998.96,439.77"/>
<polyline clip-path="url(#ci)" fill="none" stroke="#000" stroke-width="2.3" stroke-linejoin="round" points="806.56,456 812.98,454.88 819.39,453.66 825.8,452.37 832.22,450.99 838.63,449.54 845.04,448.01 851.46,446.4 857.87,444.7 864.28,442.92 870.7,441.05 877.11,439.1 883.52,437.05 889.94,434.91 896.35,432.67 902.76,430.34 909.18,427.91 915.59,425.37 922,422.73 928.42,419.99 934.83,417.14 941.24,414.18 947.66,411.11 954.07,407.93 960.48,404.64 966.9,401.24 973.31,397.74 979.72,394.12 986.14,390.39 992.55,386.56 998.96,382.62"/>
<polyline clip-path="url(#ci)" fill="none" stroke="#000" stroke-width="2.3" stroke-linejoin="round" points="806.56,456 812.98,454.1 819.39,452.01 825.8,449.73 832.22,447.25 838.63,444.57 845.04,441.68 851.46,438.57 857.87,435.23 864.28,431.66 870.7,427.84 877.11,423.77 883.52,419.45 889.94,414.87 896.35,410.03 902.76,404.93 909.18,399.57 915.59,393.95 922,388.09 928.42,381.98 934.83,375.64 941.24,369.09 947.66,362.34 954.07,355.4 960.48,348.31 966.9,341.08 973.31,333.74 979.72,326.32 986.14,318.84 992.55,311.33 998.96,303.81"/>
<rect x="728" y="240" width="240.5" height="240.45" fill="none" stroke="#000" stroke-opacity="0.5" stroke-width="1.1"/>
<g stroke="#000" stroke-opacity="0.5" stroke-width="1.1"><line x1="728" y1="480.45" x2="728" y2="492.05"/><line x1="808.17" y1="480.45" x2="808.17" y2="492.05"/><line x1="888.33" y1="480.45" x2="888.33" y2="492.05"/><line x1="968.5" y1="480.45" x2="968.5" y2="492.05"/><line x1="728" y1="480.45" x2="716.4" y2="480.45"/><line x1="728" y1="420.34" x2="716.4" y2="420.34"/><line x1="728" y1="360.23" x2="716.4" y2="360.23"/><line x1="728" y1="300.11" x2="716.4" y2="300.11"/><line x1="728" y1="240" x2="716.4" y2="240"/></g>
<g text-anchor="middle"><text x="728" y="521.5">2.5</text><text x="808.17" y="521.5">3.0</text><text x="888.33" y="521.5">3.5</text><text x="968.5" y="521.5">4.0</text></g>
<g text-anchor="end"><text x="708.2" y="490.95">0.0</text><text x="708.2" y="430.84">2.5</text><text x="708.2" y="370.73">5.0</text><text x="708.2" y="310.61">7.5</text><text x="708.2" y="250.5">10.0</text></g>
<circle cx="627.1" cy="623.1" r="6.9" fill="none" stroke="#1f77b4" stroke-width="2.1"/>
<text x="677.1" y="633" word-spacing="-1.5">Gas</text>
<circle cx="627.1" cy="664.1" r="6.9" fill="none" stroke="#ff7f0e" stroke-width="2.1"/>
<text x="677.1" y="673.6" word-spacing="-1.5">Dust 1</text>
<circle cx="850.9" cy="623.1" r="6.9" fill="none" stroke="#d62728" stroke-width="2.1"/>
<text x="901.2" y="633" word-spacing="-1.5">Dust 2</text>
<circle cx="850.9" cy="664.1" r="6.9" fill="none" stroke="#2ca02c" stroke-width="2.1"/>
<text x="901.2" y="673.6" word-spacing="-1.5">Dust 3</text>
</svg>
</body></html>
